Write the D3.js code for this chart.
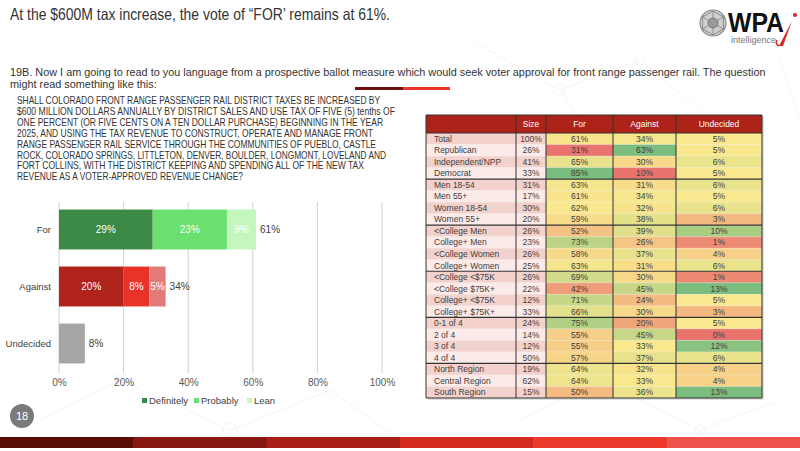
<!DOCTYPE html>
<html>
<head>
<meta charset="utf-8">
<script src="https://cdn.jsdelivr.net/npm/d3@7"></script>
<style>
html,body{margin:0;padding:0;background:#fff;}
svg{display:block;font-family:'Liberation Sans Narrow','Liberation Sans',Arial,sans-serif;}
</style>
</head>
<body>
<svg id="c" width="800" height="451"></svg>
<script>
// ---------- DATA ----------
const titleText = "At the $600M tax increase, the vote of \u201CFOR\u2019 remains at 61%.";
const questionLines = [
  "19B. Now I am going to read to you language from a prospective ballot measure which would seek voter approval for front range passenger rail.  The question",
  "might read something like this:"
];
const ballotLines = [
  "SHALL COLORADO FRONT RANGE PASSENGER RAIL DISTRICT TAXES BE INCREASED BY",
  "$600 MILLION DOLLARS ANNUALLY BY DISTRICT SALES AND USE TAX OF FIVE (5) tenths OF",
  "ONE PERCENT (OR FIVE CENTS ON A TEN DOLLAR PURCHASE) BEGINNING IN THE YEAR",
  "2025, AND USING THE TAX REVENUE TO CONSTRUCT, OPERATE AND MANAGE FRONT",
  "RANGE PASSENGER RAIL SERVICE THROUGH THE COMMUNITIES OF PUEBLO, CASTLE",
  "ROCK, COLORADO SPRINGS, LITTLETON, DENVER, BOULDER, LONGMONT, LOVELAND AND",
  "FORT COLLINS, WITH THE DISTRICT KEEPING AND SPENDING ALL OF THE NEW TAX",
  "REVENUE AS A VOTER-APPROVED REVENUE CHANGE?"
];
const barCategories = ["For", "Against", "Undecided"];
const seriesNames = ["Definitely", "Probably", "Lean"];
const definitelyVals = [29, 20, 8];
const probablyVals = [23, 8, 0];
const leanVals = [9, 5, 0];
const barTotals = [61, 34, 8];
const xTicks = [0, 20, 40, 60, 80, 100];

const tableHeaders = ["", "Size", "For", "Against", "Undecided"];
const rowLabels = ["Total","Republican","Independent/NPP","Democrat","Men 18-54","Men 55+","Women 18-54","Women 55+",
  "<College Men","College+ Men","<College Women","College+ Women","<College <$75K","<College $75K+","College+ <$75K","College+ $75K+",
  "0-1 of 4","2 of 4","3 of 4","4 of 4","North Region","Central Region","South Region"];
const sizeVals = [100,26,41,33,31,17,30,20,26,23,26,25,26,22,12,33,24,14,12,50,19,62,15];
const forVals = [61,31,65,85,63,61,62,59,52,73,58,63,69,42,71,66,75,55,55,57,64,64,50];
const againstVals = [34,63,30,10,31,34,32,38,39,26,37,31,30,45,24,30,20,45,33,37,32,33,36];
const undecidedVals = [5,5,6,5,6,5,6,3,10,1,4,6,1,13,5,3,5,0,12,6,4,4,13];
const groupEnds = [3, 7, 11, 15, 19]; // dark separator after these row indices

// ---------- DRAW ----------
const svg = d3.select("#c");
const FONT = "'Liberation Sans Narrow','Liberation Sans',Arial,sans-serif";
const FONT_T = "'Liberation Sans',Arial,sans-serif";

// faint background network
const bg = svg.append("g").attr("opacity", 0.06).attr("stroke", "#555").attr("fill", "none");
[[470,40,560,90],[560,90,640,60],[640,60,700,110],[560,90,600,150],[40,420,120,380],[120,380,230,430],[230,430,330,390],[330,390,400,440],
 [520,420,600,380],[600,380,700,430],[700,430,780,400],[780,60,800,120]].forEach(l=>{
  bg.append("line").attr("x1",l[0]).attr("y1",l[1]).attr("x2",l[2]).attr("y2",l[3]);
});
[[560,90,6],[640,60,5],[120,380,6],[230,430,7],[600,380,6],[700,430,5]].forEach(c=>{
  bg.append("circle").attr("cx",c[0]).attr("cy",c[1]).attr("r",c[2]);
});

// title
svg.append("text").attr("x", 10).attr("y", 20)
  .attr("font-size", 16.5).attr("fill", "#333").attr("font-family", FONT)
  .attr("textLength", 380).attr("lengthAdjust", "spacingAndGlyphs")
  .text(titleText);

// logo
const logo = svg.append("g");
logo.append("circle").attr("cx", 713).attr("cy", 23).attr("r", 13).attr("fill", "#cfcfcf").attr("stroke", "#8a8a8a").attr("stroke-width", 1.2);
const hex = d3.range(6).map(i => [713 + 12*Math.cos(Math.PI/3*i + Math.PI/6), 23 + 12*Math.sin(Math.PI/3*i + Math.PI/6)]);
logo.append("polygon").attr("points", hex.map(p=>p.join(",")).join(" ")).attr("fill", "none").attr("stroke", "#777").attr("stroke-width", 0.8);
hex.forEach(p => logo.append("line").attr("x1", 713).attr("y1", 23).attr("x2", p[0]).attr("y2", p[1]).attr("stroke", "#777").attr("stroke-width", 0.7));
logo.append("circle").attr("cx", 713).attr("cy", 23).attr("r", 5).attr("fill", "#999").attr("stroke", "#666").attr("stroke-width", 0.7);
logo.append("text").attr("x", 728).attr("y", 32).attr("font-size", 27).attr("font-weight", "bold")
  .attr("font-family", FONT_T).attr("fill", "#111")
  .attr("textLength", 56).attr("lengthAdjust", "spacingAndGlyphs").text("WPA");
logo.append("path").attr("d", "M792,21 L779,46 L783,46 Z").attr("fill", "#d42a20");
logo.append("path").attr("d", "M779,46 Q775,44 777,40").attr("fill", "none").attr("stroke", "#d42a20").attr("stroke-width", 1.5);
logo.append("circle").attr("cx", 795).attr("cy", 15).attr("r", 2).attr("fill", "#d42a20");
logo.append("text").attr("x", 731).attr("y", 43).attr("font-size", 8.5).attr("fill", "#777")
  .attr("font-family", FONT_T).attr("textLength", 45).attr("lengthAdjust", "spacingAndGlyphs").text("intelligence");

// question (font size fitted so line 1 spans ~758px)
const q1 = svg.append("text").attr("x", 10).attr("y", 76).attr("font-size", 12).attr("fill", "#333")
  .attr("font-family", FONT).text(questionLines[0]);
const n1 = q1.node().getComputedTextLength();
const qfs = 12 * 756 / n1;
q1.attr("font-size", qfs);
svg.append("text").attr("x", 10).attr("y", 88).attr("font-size", qfs).attr("fill", "#333")
  .attr("font-family", FONT).text(questionLines[1]);

// red accent bar
svg.append("rect").attr("x", 355).attr("y", 87).attr("width", 48).attr("height", 3).attr("fill", "#6b100c");
svg.append("rect").attr("x", 403).attr("y", 87).attr("width", 47).attr("height", 3).attr("fill", "#e8372c");

// ballot text
const bW = [363, 378, 366, 356, 359, 369, 347, 226];
ballotLines.forEach((t, i) => {
  svg.append("text").attr("x", 17).attr("y", 104 + i*10.9).attr("font-size", 10.5).attr("fill", "#333")
    .attr("font-family", FONT).attr("textLength", bW[i]).attr("lengthAdjust", "spacingAndGlyphs").text(t);
});

// ---------- BAR CHART ----------
const x = d3.scaleLinear().domain([0, 100]).range([59, 382]);
const y = d3.scaleBand().domain(barCategories).range([201, 372]).paddingInner(0.3).paddingOuter(0.15);
const gridTop = 202, gridBot = 373;

const grid = svg.append("g");
grid.selectAll("line").data(xTicks).join("line")
  .attr("x1", d => x(d)).attr("x2", d => x(d)).attr("y1", gridTop).attr("y2", gridBot)
  .attr("stroke", "#d0d0d0").attr("stroke-width", 1);

const xAxis = svg.append("g").attr("transform", `translate(0,${gridBot})`)
  .call(d3.axisBottom(x).tickValues(xTicks).tickFormat(d => d + "%").tickSize(0).tickPadding(6));
xAxis.select(".domain").remove();
xAxis.selectAll("text").attr("font-size", 10).attr("fill", "#595959").attr("font-family", FONT);

const yAxis = svg.append("g").attr("transform", `translate(51,0)`)
  .call(d3.axisLeft(y).tickSize(0).tickPadding(0));
yAxis.select(".domain").remove();
yAxis.selectAll("text").attr("font-size", 9.5).attr("fill", "#404040").attr("font-family", FONT);

const colors = {
  For: ["#3c8a46", "#69e06f", "#c4f7bd"],
  Against: ["#b0231a", "#ea3328", "#e27a78"],
  Undecided: ["#a6a6a6", "#a6a6a6", "#a6a6a6"]
};
const seriesVals = [definitelyVals, probablyVals, leanVals];
const segs = [];
barCategories.forEach((c, ci) => {
  let acc = 0;
  seriesVals.forEach((arr, si) => {
    const v = arr[ci];
    if (v > 0) segs.push({cat: c, si, x0: acc, x1: acc + v, v});
    acc += v;
  });
});
svg.append("g").selectAll("rect").data(segs).join("rect")
  .attr("x", d => x(d.x0)).attr("width", d => x(d.x1) - x(d.x0))
  .attr("y", d => y(d.cat)).attr("height", y.bandwidth())
  .attr("fill", d => colors[d.cat][d.si]);
svg.append("g").selectAll("text").data(segs.filter(d => d.cat !== "Undecided")).join("text")
  .attr("x", d => (x(d.x0) + x(d.x1)) / 2).attr("y", d => y(d.cat) + y.bandwidth()/2 + 3.5)
  .attr("text-anchor", "middle").attr("font-size", 10).attr("fill", "#fff").attr("font-family", FONT)
  .text(d => d.v + "%");
svg.append("g").selectAll("text").data(barCategories).join("text")
  .attr("x", (d, i) => x(definitelyVals[i] + probablyVals[i] + leanVals[i]) + 4)
  .attr("y", d => y(d) + y.bandwidth()/2 + 3.5)
  .attr("font-size", 10).attr("fill", "#404040").attr("font-family", FONT)
  .text((d, i) => barTotals[i] + "%");

// legend
const legX = [142, 194, 247];
const lg = svg.append("g");
seriesNames.forEach((n, i) => {
  lg.append("rect").attr("x", legX[i]).attr("y", 398).attr("width", 5).attr("height", 5).attr("fill", colors.For[i]);
  lg.append("text").attr("x", legX[i] + 7).attr("y", 404).attr("font-size", 9.5).attr("fill", "#404040")
    .attr("font-family", FONT).text(n);
});

// ---------- TABLE ----------
const colX = [426, 516, 546, 613, 676, 762];
const headTop = 115, headBot = 133, tBot = 398;
const ry = d3.scaleBand().domain(d3.range(rowLabels.length)).range([headBot, tBot]);

const heatScale = vals => {
  const lo = d3.min(vals), mid = d3.median(vals), hi = d3.max(vals);
  return d3.scaleLinear().domain([lo, mid, hi]).range(["#e9736d", "#f9e88e", "#7abd7e"]).interpolate(d3.interpolateRgb);
};
const valCols = [forVals, againstVals, undecidedVals];
const scales = valCols.map(heatScale);

const tg = svg.append("g");
// shadow
tg.append("rect").attr("x", colX[0] + 2).attr("y", headTop + 2).attr("width", colX[5] - colX[0]).attr("height", tBot - headTop)
  .attr("fill", "#000").attr("opacity", 0.12);
// header
tg.append("rect").attr("x", colX[0]).attr("y", headTop).attr("width", colX[5] - colX[0]).attr("height", headBot - headTop).attr("fill", "#ad2219");
tableHeaders.forEach((h, i) => {
  if (!h) return;
  tg.append("text").attr("x", (colX[i] + colX[i+1]) / 2).attr("y", (headTop + headBot)/2 + 3.2)
    .attr("text-anchor", "middle").attr("font-size", 8.5).attr("fill", "#fff").attr("font-family", FONT_T).text(h);
});
// rows
const FS = 8.5;
rowLabels.forEach((lab, r) => {
  const yy = ry(r), h = ry.bandwidth();
  const pink = r % 2 === 0 ? "#f3d2cd" : "#fbeae8";
  tg.append("rect").attr("x", colX[0]).attr("y", yy).attr("width", colX[2] - colX[0]).attr("height", h).attr("fill", pink);
  tg.append("text").attr("x", colX[0] + 8).attr("y", yy + h/2 + 3).attr("font-size", FS).attr("fill", "#404040")
    .attr("font-family", FONT_T).text(lab);
  tg.append("text").attr("x", (colX[1] + colX[2]) / 2).attr("y", yy + h/2 + 3).attr("text-anchor", "middle")
    .attr("font-size", FS).attr("fill", "#404040").attr("font-family", FONT_T).text(sizeVals[r] + "%");
  valCols.forEach((vals, ci) => {
    tg.append("rect").attr("x", colX[ci+2]).attr("y", yy).attr("width", colX[ci+3] - colX[ci+2]).attr("height", h)
      .attr("fill", scales[ci](vals[r]));
    tg.append("text").attr("x", (colX[ci+2] + colX[ci+3]) / 2).attr("y", yy + h/2 + 3).attr("text-anchor", "middle")
      .attr("font-size", FS).attr("fill", "#404040").attr("font-family", FONT_T).text(vals[r] + "%");
  });
  if (r > 0) {
    tg.append("line").attr("x1", colX[0]).attr("x2", colX[5]).attr("y1", yy).attr("y2", yy)
      .attr("stroke", "#fff").attr("stroke-opacity", 0.5).attr("stroke-width", 0.6);
  }
});
// group separators
groupEnds.forEach(r => {
  const yy = ry(r) + ry.bandwidth();
  tg.append("line").attr("x1", colX[0]).attr("x2", colX[5]).attr("y1", yy).attr("y2", yy).attr("stroke", "#333").attr("stroke-width", 1.2);
});
// vertical lines
colX.forEach((cx, i) => {
  tg.append("line").attr("x1", cx).attr("x2", cx).attr("y1", headTop).attr("y2", tBot).attr("stroke", "#333").attr("stroke-width", 1);
});
tg.append("line").attr("x1", colX[0]).attr("x2", colX[5]).attr("y1", headTop).attr("y2", headTop).attr("stroke", "#333");
tg.append("line").attr("x1", colX[0]).attr("x2", colX[5]).attr("y1", headBot).attr("y2", headBot).attr("stroke", "#333");
tg.append("line").attr("x1", colX[0]).attr("x2", colX[5]).attr("y1", tBot).attr("y2", tBot).attr("stroke", "#333").attr("stroke-width", 1.2);

// page number
svg.append("circle").attr("cx", 22).attr("cy", 416).attr("r", 12).attr("fill", "#7a7a7a");
svg.append("text").attr("x", 22).attr("y", 420).attr("text-anchor", "middle").attr("font-size", 11).attr("fill", "#fff")
  .attr("font-family", FONT).text("18");

// bottom band
const bandColors = ["#5a0c08", "#881712", "#a81f18", "#d42a20", "#eb3a2c", "#ef524a"];
const bx = d3.scaleBand().domain(d3.range(6)).range([0, 800]);
svg.append("g").selectAll("rect").data(bandColors).join("rect")
  .attr("x", (d, i) => bx(i)).attr("y", 437).attr("width", bx.bandwidth() + 0.5).attr("height", 11).attr("fill", d => d);
</script>
</body>
</html>
